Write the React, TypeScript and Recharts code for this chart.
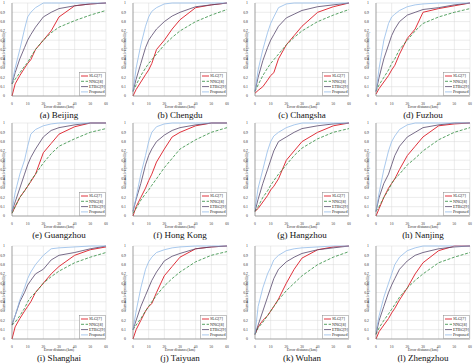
import { LineChart, Line, XAxis, YAxis, CartesianGrid } from 'recharts';

// error distance (km) where the CDFs are sampled
const xKm = [0, 2, 5, 8, 10, 12, 15, 20, 25, 30, 40, 50, 60];

const cities = [
  '(a) Beijing', '(b) Chengdu', '(c) Changsha', '(d) Fuzhou',
  '(e) Guangzhou', '(f) Hong Kong', '(g) Hangzhou', '(h) Nanjing',
  '(i) Shanghai', '(j) Taiyuan', '(k) Wuhan', '(l) Zhengzhou',
];

const seriesNames = ['SLG[7]', 'NNG[8]', 'ETBG[9]', 'Proposed'];

const slg = [
  [0, 0.13, 0.22, 0.3, 0.35, 0.39, 0.5, 0.6, 0.7, 0.85, 0.97, 0.99, 1],
  [0, 0.07, 0.15, 0.23, 0.28, 0.35, 0.5, 0.6, 0.72, 0.82, 0.95, 0.98, 1],
  [0.03, 0.06, 0.1, 0.17, 0.22, 0.25, 0.4, 0.55, 0.65, 0.75, 0.9, 0.96, 1],
  [0.02, 0.08, 0.15, 0.22, 0.28, 0.33, 0.45, 0.62, 0.72, 0.9, 0.94, 0.97, 1],
  [0.03, 0.1, 0.2, 0.27, 0.32, 0.37, 0.45, 0.68, 0.78, 0.88, 0.96, 1, 1],
  [0, 0.1, 0.2, 0.3, 0.38, 0.45, 0.58, 0.72, 0.85, 0.9, 0.97, 1, 1],
  [0.05, 0.08, 0.15, 0.22, 0.28, 0.32, 0.4, 0.6, 0.7, 0.8, 0.9, 0.97, 1],
  [0, 0.08, 0.2, 0.3, 0.35, 0.4, 0.5, 0.65, 0.75, 0.85, 0.97, 0.99, 1],
  [0, 0.13, 0.22, 0.3, 0.35, 0.4, 0.5, 0.6, 0.7, 0.78, 0.9, 0.96, 0.99],
  [0, 0.1, 0.2, 0.3, 0.35, 0.38, 0.5, 0.68, 0.78, 0.88, 0.97, 0.99, 1],
  [0.05, 0.13, 0.2, 0.25, 0.3, 0.35, 0.43, 0.6, 0.75, 0.87, 0.96, 0.99, 1],
  [0, 0.08, 0.15, 0.22, 0.28, 0.33, 0.42, 0.55, 0.7, 0.82, 0.95, 1, 1],
];

const nng = [
  [0.13, 0.18, 0.25, 0.32, 0.36, 0.42, 0.5, 0.6, 0.68, 0.74, 0.81, 0.87, 0.92],
  [0.05, 0.12, 0.22, 0.3, 0.35, 0.39, 0.45, 0.55, 0.63, 0.7, 0.8, 0.87, 0.93],
  [0.05, 0.12, 0.22, 0.3, 0.35, 0.39, 0.45, 0.55, 0.63, 0.7, 0.8, 0.87, 0.93],
  [0.05, 0.12, 0.2, 0.28, 0.35, 0.4, 0.5, 0.6, 0.7, 0.78, 0.85, 0.9, 0.94],
  [0.03, 0.1, 0.2, 0.27, 0.32, 0.38, 0.45, 0.57, 0.67, 0.75, 0.83, 0.9, 0.94],
  [0.03, 0.08, 0.17, 0.24, 0.28, 0.33, 0.4, 0.52, 0.62, 0.72, 0.82, 0.9, 0.95],
  [0.05, 0.1, 0.2, 0.27, 0.33, 0.38, 0.45, 0.55, 0.65, 0.73, 0.83, 0.9, 0.94],
  [0.05, 0.1, 0.2, 0.28, 0.35, 0.4, 0.45, 0.55, 0.62, 0.7, 0.82, 0.9, 0.95],
  [0.15, 0.18, 0.25, 0.33, 0.4, 0.45, 0.5, 0.6, 0.67, 0.73, 0.82, 0.88, 0.93],
  [0.1, 0.15, 0.22, 0.3, 0.35, 0.4, 0.47, 0.57, 0.65, 0.72, 0.83, 0.9, 0.94],
  [0.05, 0.12, 0.18, 0.25, 0.3, 0.35, 0.42, 0.52, 0.6, 0.68, 0.8, 0.88, 0.94],
  [0.05, 0.12, 0.2, 0.27, 0.32, 0.37, 0.45, 0.55, 0.63, 0.7, 0.82, 0.88, 0.93],
];

const etbg = [
  [0.13, 0.25, 0.4, 0.52, 0.6, 0.66, 0.74, 0.85, 0.9, 0.94, 0.97, 0.99, 1],
  [0.05, 0.18, 0.35, 0.52, 0.6, 0.65, 0.72, 0.8, 0.86, 0.9, 0.96, 0.98, 1],
  [0.05, 0.2, 0.38, 0.52, 0.6, 0.66, 0.75, 0.84, 0.88, 0.92, 0.96, 0.98, 1],
  [0.05, 0.2, 0.4, 0.55, 0.65, 0.72, 0.8, 0.87, 0.9, 0.93, 0.95, 0.98, 1],
  [0.05, 0.15, 0.3, 0.45, 0.55, 0.63, 0.72, 0.85, 0.92, 0.95, 0.98, 1, 1],
  [0.05, 0.18, 0.35, 0.55, 0.65, 0.72, 0.8, 0.87, 0.92, 0.95, 0.98, 1, 1],
  [0.05, 0.18, 0.35, 0.5, 0.6, 0.7, 0.8, 0.85, 0.9, 0.94, 0.97, 0.99, 1],
  [0.05, 0.2, 0.35, 0.45, 0.55, 0.65, 0.75, 0.85, 0.9, 0.95, 0.98, 1, 1],
  [0.15, 0.25, 0.4, 0.5, 0.58, 0.63, 0.7, 0.75, 0.85, 0.9, 0.93, 0.97, 1],
  [0.1, 0.2, 0.35, 0.47, 0.55, 0.63, 0.72, 0.84, 0.89, 0.92, 0.97, 0.99, 1],
  [0.05, 0.15, 0.3, 0.45, 0.55, 0.65, 0.75, 0.83, 0.88, 0.92, 0.96, 0.98, 1],
  [0.05, 0.2, 0.35, 0.5, 0.58, 0.65, 0.75, 0.84, 0.9, 0.93, 0.97, 0.99, 1],
];

const proposed = [
  [0.14, 0.3, 0.5, 0.72, 0.85, 0.9, 0.95, 1, 1, 1, 1, 1, 1],
  [0.05, 0.3, 0.55, 0.75, 0.85, 0.91, 0.95, 0.99, 1, 1, 1, 1, 1],
  [0.05, 0.28, 0.5, 0.68, 0.78, 0.85, 0.95, 0.99, 1, 1, 1, 1, 1],
  [0.05, 0.3, 0.6, 0.78, 0.85, 0.88, 0.92, 0.96, 0.98, 0.99, 1, 1, 1],
  [0.05, 0.25, 0.45, 0.6, 0.75, 0.88, 0.93, 0.97, 0.99, 1, 1, 1, 1],
  [0.05, 0.2, 0.45, 0.65, 0.8, 0.9, 0.96, 0.99, 1, 1, 1, 1, 1],
  [0.08, 0.3, 0.5, 0.7, 0.8, 0.86, 0.9, 0.95, 0.98, 1, 1, 1, 1],
  [0.05, 0.25, 0.5, 0.7, 0.8, 0.86, 0.93, 0.98, 1, 1, 1, 1, 1],
  [0.17, 0.25, 0.42, 0.55, 0.65, 0.72, 0.8, 0.9, 0.97, 0.98, 0.99, 1, 1],
  [0.1, 0.3, 0.55, 0.75, 0.83, 0.88, 0.93, 0.96, 0.98, 0.99, 1, 1, 1],
  [0.05, 0.35, 0.55, 0.7, 0.77, 0.85, 0.9, 0.95, 0.97, 0.98, 0.99, 1, 1],
  [0.08, 0.25, 0.45, 0.6, 0.7, 0.8, 0.88, 0.95, 0.98, 1, 1, 1, 1],
];

const xTicks = [0, 10, 20, 30, 40, 50, 60];
const yTicks = [0, 0.1, 0.2, 0.3, 0.4, 0.5, 0.6, 0.7, 0.8, 0.9, 1];

const colors = ['#e0323c', '#2e8b3e', '#55466b', '#93bbe8'];
const dashes = [undefined, '3 1.6', undefined, undefined];
const keys = ['slg', 'nng', 'etbg', 'proposed'];

const colLeft = [12, 133, 255, 376];
const rowTop = [3, 123, 246];
const plotW = 94;
const plotH = 93;
const font = 'Liberation Serif, Times New Roman, serif';

function Panel({ idx }: { idx: number }) {
  const left = colLeft[idx % 4];
  const top = rowTop[Math.floor(idx / 4)];
  const data = xKm.map((x, i) => ({
    x,
    slg: slg[idx][i],
    nng: nng[idx][i],
    etbg: etbg[idx][i],
    proposed: proposed[idx][i],
  }));

  return (
    <>
      <div style={{ position: 'absolute', left: left - 12, top: top - 3 }}>
        <LineChart width={12 + plotW + 4} height={3 + plotH + 12} data={data}
          margin={{ top: 3, right: 4, left: 0, bottom: 0 }} style={{ overflow: 'visible' }}>
          <CartesianGrid stroke="#d9d9d9" strokeWidth={0.5} />
          <XAxis dataKey="x" type="number" domain={[0, 60]} ticks={xTicks} height={12} interval={0}
            tick={{ fontSize: 3.6, fill: '#333', fontFamily: font }} tickLine={false} tickMargin={0}
            axisLine={{ stroke: '#777', strokeWidth: 0.6 }} />
          <YAxis type="number" domain={[0, 1]} ticks={yTicks} width={12} interval={0}
            tick={{ fontSize: 3.8, fill: '#333', fontFamily: font }} tickLine={false} tickMargin={1}
            axisLine={{ stroke: '#777', strokeWidth: 0.6 }}
            tickFormatter={(v: number) => (v === 0 ? '0' : v === 1 ? '1' : v.toFixed(1))} />
          {keys.map((k, i) => (
            <Line key={k} dataKey={k} type="linear" stroke={colors[i]} strokeWidth={i === 0 ? 1 : 0.8}
              strokeDasharray={dashes[i]} dot={false} isAnimationActive={false} />
          ))}
        </LineChart>
      </div>
      {/* axis titles */}
      <svg width={plotW + 14} height={plotH + 14} style={{ position: 'absolute', left: left - 12, top, overflow: 'visible' }}>
        <text x={12 + plotW / 2} y={plotH + 11.6} fontSize={4} fontFamily={font} fill="#333" textAnchor="middle">
          Error distance(km)
        </text>
        <text transform={`translate(4.5, ${plotH / 2}) rotate(-90)`} fontSize={4} fontFamily={font} fill="#333" textAnchor="middle">
          Cumulative probability
        </text>
      </svg>
      {/* legend box */}
      <svg width={27} height={24} style={{ position: 'absolute', left: left + plotW - 27, top: top + plotH - 24 }}>
        <rect x={0.5} y={0.5} width={26} height={23} fill="#fff" stroke="#888" strokeWidth={0.5} />
        {seriesNames.map((n, i) => (
          <g key={n}>
            <line x1={2} x2={9} y1={4 + i * 5.3} y2={4 + i * 5.3} stroke={colors[i]}
              strokeWidth={i === 0 ? 1 : 0.8} strokeDasharray={dashes[i]} />
            <text x={10} y={5.4 + i * 5.3} fontSize={4.2} fontFamily={font} fill="#222">{n}</text>
          </g>
        ))}
      </svg>
      <div style={{
        position: 'absolute', left: left - 10, width: plotW + 20, top: top + plotH + 13.5,
        textAlign: 'center', fontSize: 9, lineHeight: '10px', fontFamily: font, color: '#111',
      }}>
        {cities[idx]}
      </div>
    </>
  );
}

export default function App() {
  return (
    <div style={{ position: 'absolute', left: 0, top: 0, width: 474, height: 364, background: '#fff', overflow: 'hidden' }}>
      {cities.map((_, i) => <Panel key={i} idx={i} />)}
    </div>
  );
}
